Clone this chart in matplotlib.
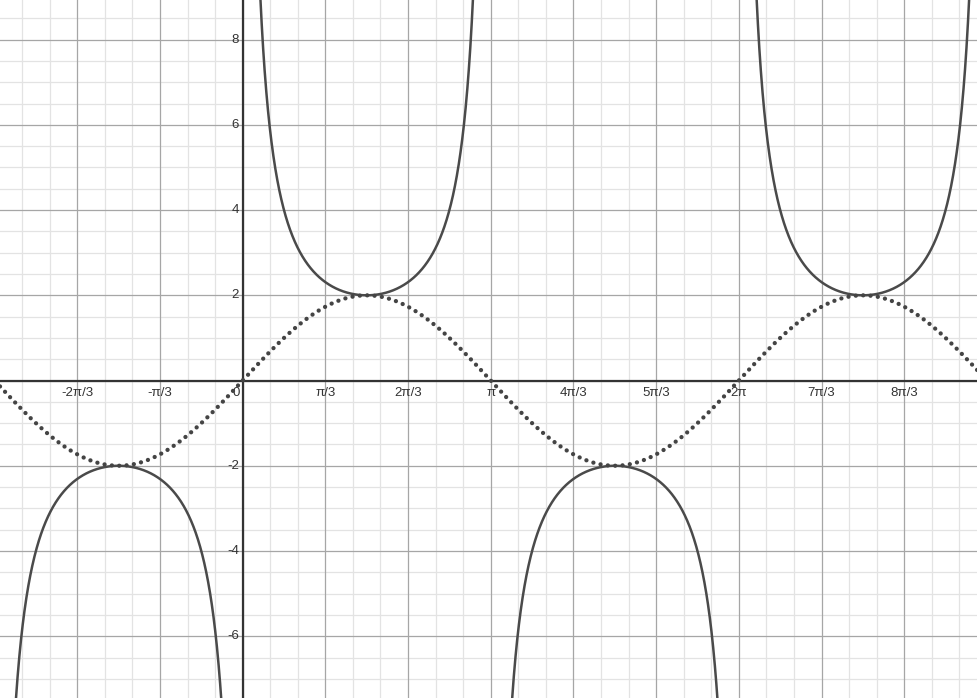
import numpy as np
import matplotlib.pyplot as plt

plt.rcParams["font.family"] = ["Liberation Sans", "DejaVu Sans"]

# y = 2 sin x (dotted) and y = 2 csc x (solid)
amplitude = 2
x_min, x_max = -0.978 * np.pi, 2.964 * np.pi
y_min, y_max = -7.45, 8.93

x_tick_k = [-2, -1, 1, 2, 3, 4, 5, 6, 7, 8]
x_tick_labels = ["-2π/3", "-π/3", "π/3", "2π/3", "π", "4π/3", "5π/3", "2π", "7π/3", "8π/3"]
y_ticks = [-6, -4, -2, 2, 4, 6, 8]

fig = plt.figure(figsize=(9.78, 6.98), dpi=100)
ax = fig.add_axes([0, 0, 1, 1])
ax.set_xlim(x_min, x_max)
ax.set_ylim(y_min, y_max)
ax.axis("off")

# grid: major every pi/3 and 2 units, minor thirds / quarters
step = np.pi / 3
for k in range(-9, 30):
    major = k % 3 == 0
    ax.axvline(k * step / 3, color="#a6a6a6" if major else "#e3e3e3", lw=0.9,
               zorder=0.5 if major else 0)
for k in range(-20, 20):
    major = k % 4 == 0
    ax.axhline(k * 0.5, color="#a6a6a6" if major else "#e3e3e3", lw=0.9,
               zorder=0.5 if major else 0)

ax.axhline(0, color="#333333", lw=1.6, zorder=1)
ax.axvline(0, color="#333333", lw=1.6, zorder=1)

# curves
x = np.linspace(x_min, x_max, 4000)
y_sin = amplitude * np.sin(x)
with np.errstate(divide="ignore"):
    y_csc = amplitude / np.sin(x)
y_csc[np.abs(y_csc) > 30] = np.nan

ax.plot(x, y_csc, color="#4a4a4a", lw=1.8, zorder=3)
ax.plot(x, y_sin, color="#444444", lw=3.1, linestyle=(0, (0.01, 1.7)),
        dash_capstyle="round", zorder=3)

# labels
for k, lab in zip(x_tick_k, x_tick_labels):
    ax.annotate(lab, (k * step, 0), xytext=(0, -4.5), textcoords="offset points",
                ha="center", va="top", fontsize=9.5, color="#333333", zorder=2)
ax.annotate("0", (0, 0), xytext=(-2, -4.5), textcoords="offset points",
            ha="right", va="top", fontsize=9.5, color="#333333", zorder=2)
for yv in y_ticks:
    ax.annotate(str(yv), (0, yv), xytext=(-2.5, 0), textcoords="offset points",
                ha="right", va="center", fontsize=9.5, color="#333333", zorder=2)

fig.savefig("out.png", dpi=100)
